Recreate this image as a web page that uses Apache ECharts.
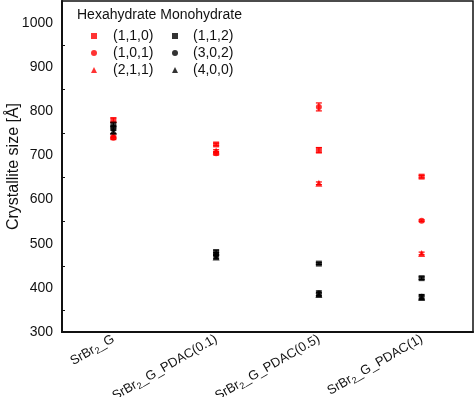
<!DOCTYPE html>
<html>
<head>
<meta charset="utf-8">
<script src="https://cdn.jsdelivr.net/npm/echarts@6/dist/echarts.min.js"></script>
<style>
  html, body { margin: 0; padding: 0; background: #fff; }
  #chart { width: 474px; height: 397px; }
</style>
</head>
<body>
<div id="chart"></div>
<script>
// sample names (the "2" in SrBr2 is drawn as subscript)
var categories = ["SrBr2_G", "SrBr2_G_PDAC(0.1)", "SrBr2_G_PDAC(0.5)", "SrBr2_G_PDAC(1)"];

// hexahydrate reflections (red)
var hex110 = [780, 725, 712, 652];
var hex110Err = [5, 3, 6, 3];
var hex101 = [740, 705, 810, 552];
var hex101Err = [4, 4, 9, 2];
var hex211 = [745, 710, 637, 478];
var hex211Err = [4, 3, 3, 3];

// monohydrate reflections (black)
var mono112 = [770, 480, 455, 422];
var mono112Err = [5, 6, 2, 3];
var mono302 = [762, 475, 388, 380];
var mono302Err = [5, 5, 5, 5];
var mono400 = [755, 470, 385, 378];
var mono400Err = [5, 4, 4, 4];

var yTicks = [300, 400, 500, 600, 700, 800, 900, 1000];

var chart = echarts.init(document.getElementById("chart"));
var font = "Liberation Sans, Arial, sans-serif";

function pointSeries(name, values, color, symbol) {
  return {
    name: name,
    type: "scatter",
    symbol: symbol,
    symbolSize: symbol === "triangle" ? 7 : 6,
    itemStyle: { color: color },
    data: values,
    z: 3,
  };
}

function errorSeries(values, errs, color) {
  return {
    type: "custom",
    silent: true,
    z: 2,
    data: values.map(function (v, i) {
      return [i, v - errs[i], v + errs[i]];
    }),
    renderItem: function (params, api) {
      var lo = api.coord([api.value(0), api.value(1)]);
      var hi = api.coord([api.value(0), api.value(2)]);
      var w = 3;
      var st = { stroke: color, lineWidth: 1.2 };
      return {
        type: "group",
        children: [
          { type: "line", shape: { x1: lo[0], y1: lo[1], x2: hi[0], y2: hi[1] }, style: st },
          { type: "line", shape: { x1: lo[0] - w, y1: lo[1], x2: lo[0] + w, y2: lo[1] }, style: st },
          { type: "line", shape: { x1: hi[0] - w, y1: hi[1], x2: hi[0] + w, y2: hi[1] }, style: st },
        ],
      };
    },
  };
}

var red = "#ff0000";
var black = "#000000";

var series = [
  errorSeries(hex110, hex110Err, red),
  errorSeries(hex101, hex101Err, red),
  errorSeries(hex211, hex211Err, red),
  errorSeries(mono112, mono112Err, black),
  errorSeries(mono302, mono302Err, black),
  errorSeries(mono400, mono400Err, black),
  pointSeries("(1,1,0)", hex110, red, "rect"),
  pointSeries("(1,0,1)", hex101, red, "circle"),
  pointSeries("(2,1,1)", hex211, red, "triangle"),
  pointSeries("(1,1,2)", mono112, black, "rect"),
  pointSeries("(3,0,2)", mono302, black, "circle"),
  pointSeries("(4,0,0)", mono400, black, "triangle"),
];

var legendBase = {
  orient: "vertical",
  top: 23,
  itemWidth: 6,
  itemHeight: 6,
  itemGap: 1,
  selectedMode: false,
  textStyle: { fontFamily: font, fontSize: 14, color: "#111", lineHeight: 16 },
};

chart.setOption({
  animation: false,
  backgroundColor: "#fff",
  title: {
    text: "Hexahydrate Monohydrate",
    left: 72,
    top: 3,
    textStyle: { fontFamily: font, fontSize: 14, fontWeight: "normal", color: "#111" },
  },
  legend: [
    Object.assign({}, legendBase, {
      left: 86,
      data: ["(1,1,0)", "(1,0,1)", "(2,1,1)"],
      textStyle: Object.assign({}, legendBase.textStyle, { padding: [0, 0, 0, 11] }),
    }),
    Object.assign({}, legendBase, {
      left: 167,
      data: ["(1,1,2)", "(3,0,2)", "(4,0,0)"],
      textStyle: Object.assign({}, legendBase.textStyle, { padding: [0, 0, 0, 10] }),
    }),
  ],
  grid: {
    left: 62,
    right: 1,
    top: 1,
    bottom: 65,
    outerBoundsMode: "none",
    containLabel: false,
    show: true,
    borderColor: "#111",
    borderWidth: 1.5,
  },
  xAxis: {
    type: "category",
    data: categories,
    boundaryGap: true,
    axisLine: { lineStyle: { color: "#111", width: 2 } },
    axisTick: { inside: true, alignWithLabel: true, length: 6, lineStyle: { width: 1.5 } },
    axisLabel: {
      rotate: 30,
      margin: 6,
      color: "#111",
      fontFamily: font,
      fontSize: 13,
      formatter: function (v) {
        var parts = v.split("Br2");
        return "{n|" + parts[0] + "Br}{s|2}{n|" + parts[1] + "}";
      },
      rich: {
        n: { fontFamily: font, fontSize: 13, color: "#111" },
        s: { fontFamily: font, fontSize: 9, color: "#111", padding: [7, 0, 0, 0] },
      },
    },
  },
  yAxis: {
    type: "value",
    min: 300,
    max: 1050,
    interval: 100,
    name: "Crystallite size [Å]",
    nameLocation: "middle",
    nameGap: 40,
    nameMoveOverlap: false,
    nameTextStyle: { fontFamily: font, fontSize: 16, color: "#111" },
    axisLine: { show: true, lineStyle: { color: "#111", width: 2 } },
    axisTick: { inside: true, length: 6, lineStyle: { width: 1.5 } },
    minorTick: { show: true, splitNumber: 2, length: 3, lineStyle: { color: "#111", width: 1 } },
    splitLine: { show: false },
    axisLabel: {
      color: "#111",
      fontFamily: font,
      fontSize: 14,
      margin: 9,
      showMaxLabel: false,
      formatter: function (v) {
        return yTicks.indexOf(v) >= 0 ? String(v) : "";
      },
    },
  },
  series: series,
});
</script>
</body>
</html>
